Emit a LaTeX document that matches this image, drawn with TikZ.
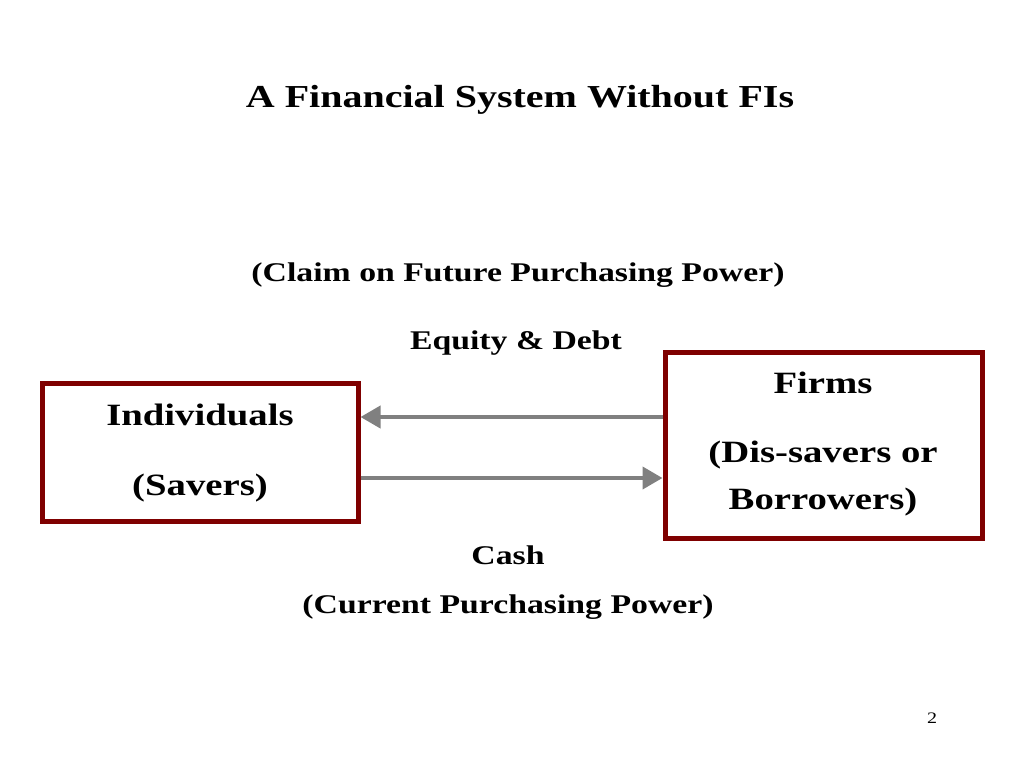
\documentclass[tikz,border=0pt]{standalone}
\usepackage{fontspec}
\setmainfont{Liberation Serif}[FakeStretch=1.25]
\usepackage{xcolor}
\usetikzlibrary{arrows.meta,positioning}
\definecolor{boxred}{HTML}{7F0000}
\definecolor{flowgray}{HTML}{808080}

\begin{document}
\begin{tikzpicture}[x=1pt,y=-1pt,align=center,
party/.style={rectangle,draw=boxred,line width=5pt,inner sep=0pt},
flows/.style={-{Triangle[length=20pt,width=22pt]},line width=4pt,draw=flowgray,color=flowgray},
label/.style={font=\bfseries\fontsize{27}{30}\selectfont,inner sep=0pt},
boxtext/.style={font=\bfseries\fontsize{31}{34}\selectfont,inner sep=0pt}
]
\useasboundingbox (0,0) rectangle (1024,768);

%% Title
\node [font=\bfseries\fontsize{32}{36}\selectfont] (title) at (520,100) {A Financial System Without FIs};

%% Boxes
\node [party,minimum width=316pt,minimum height=138pt] (indiv) at (200,452) {};
\node [party,minimum width=317pt,minimum height=186pt] (firms) at (823.5,445) {};

%% Box texts
\node [boxtext] (indivname) at (200,415) {Individuals};
\node [boxtext] (indivrole) at (200,488) {(Savers)};
\node [boxtext] (firmsname) at (823,383) {Firms};
\node [boxtext] (firmsrole) at (823,455) {(Dis-savers or};
\node [boxtext] (firmsrole2) at (823,502) {Borrowers)};

%% Flow labels
\node [label] (claim) at (518,275) {(Claim on Future Purchasing Power)};
\node [label] (equity) at (516,343) {Equity \& Debt};
\node [label] (cash) at (508,555) {Cash};
\node [label] (current) at (508,607) {(Current Purchasing Power)};

%% Flows
\draw [flows] ([yshift=28pt]firms.west) -- ([yshift=35pt]indiv.east);
\draw [flows] ([yshift=-26pt]indiv.east) -- ([yshift=-33pt]firms.west);

%% Page number
\node [font=\fontsize{16}{18}\selectfont] (page) at (932,718) {2};
\end{tikzpicture}
\end{document}
